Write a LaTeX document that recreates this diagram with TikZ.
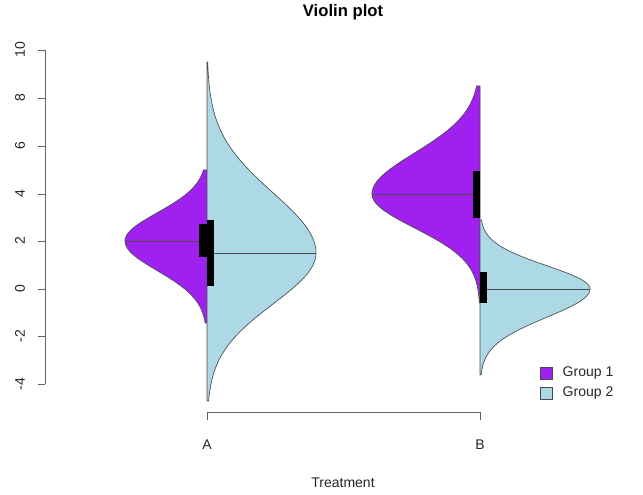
\documentclass[tikz,border=0pt]{standalone}
\usepackage{fontspec}
\setmainfont{Liberation Sans}
\definecolor{gone}{HTML}{A020F0}
\definecolor{gtwo}{HTML}{ADD8E6}
\begin{document}
\begin{tikzpicture}[x=0.75pt,y=-0.75pt,
  vio/.style={draw=black!70,line width=0.5pt},
  axis/.style={draw=black!60,line width=0.6pt},
  lbl/.style={font=\fontsize{10.5}{12}\selectfont,text=black!85}]
\useasboundingbox (0,0) rectangle (643,495);
% A group 1 (left)
\fill[gone] (207,170) -- plot[domain=170:323,samples=120,variable=\t] ({207-82*exp(-((\t-241)/((\t<241)?40:42))^2)},\t) -- (207,323) -- cycle;
\draw[vio] (207,170) -- plot[domain=170:323,samples=120,variable=\t] ({207-82*exp(-((\t-241)/((\t<241)?40:42))^2)},\t) -- (207,323);
% A group 2 (right)
\fill[gtwo] (207,62) -- plot[domain=62:401,samples=160,variable=\t] ({207+109*exp(-((\t-253)/((\t<253)?85:72))^2)},\t) -- (207,401) -- cycle;
\draw[vio] (207,62) -- plot[domain=62:401,samples=160,variable=\t] ({207+109*exp(-((\t-253)/((\t<253)?85:72))^2)},\t) -- (207,401) -- (207,62);
% B group 1
\fill[gone] (480,86) -- plot[domain=86:303,samples=140,variable=\t] ({480-108*exp(-((\t-194)/((\t<194)?58:48))^2)},\t) -- (480,303) -- cycle;
\draw[vio] (480,86) -- plot[domain=86:303,samples=140,variable=\t] ({480-108*exp(-((\t-194)/((\t<194)?58:48))^2)},\t) -- (480,303) -- (480,86);
% B group 2
\fill[gtwo] (480,220) -- plot[domain=220:375,samples=120,variable=\t] ({480+110*exp(-((\t-289)/((\t<289)?33:40))^2)},\t) -- (480,375) -- cycle;
\draw[vio] (480,220) -- plot[domain=220:375,samples=120,variable=\t] ({480+110*exp(-((\t-289)/((\t<289)?33:40))^2)},\t) -- (480,375) -- (480,220);
% medians
\draw[vio] (126,241) -- (207,241);
\draw[vio] (207,253) -- (316,253);
\draw[vio] (372,194) -- (480,194);
\draw[vio] (480,289) -- (590,289);
% boxes
\fill (199,224) rectangle (207,257);
\fill (207,220) rectangle (214,286);
\fill (473,171) rectangle (480,218);
\fill (480,272) rectangle (487,303);
% y axis
\draw[axis] (45,50) -- (45,384);
\foreach \v/\y in {10/50,8/98,6/146,4/194,2/241,0/289,-2/336,-4/384}{
  \draw[axis] (45,\y) -- (38,\y);
  \node[lbl,rotate=90] at (20,\y) {\v};
}
% x axis
\draw[axis] (207,420) -- (207,412) -- (480,412) -- (480,420);
\node[lbl] (la) at (207,445) {A};
\node[lbl] (lb) at (480,445) {B};
\node[lbl] (xt) at (343,483) {Treatment};
\node[font=\bfseries\fontsize{12.5}{14}\selectfont] (title) at (343,12) {Violin plot};
% legend
\draw[vio,fill=gone] (540,367) rectangle (552,379);
\draw[vio,fill=gtwo] (540,387) rectangle (552,399);
\node[lbl,anchor=west] (g1) at (558,373) {Group 1};
\node[lbl,anchor=west] (g2) at (558,393) {Group 2};
\end{tikzpicture}
\end{document}
